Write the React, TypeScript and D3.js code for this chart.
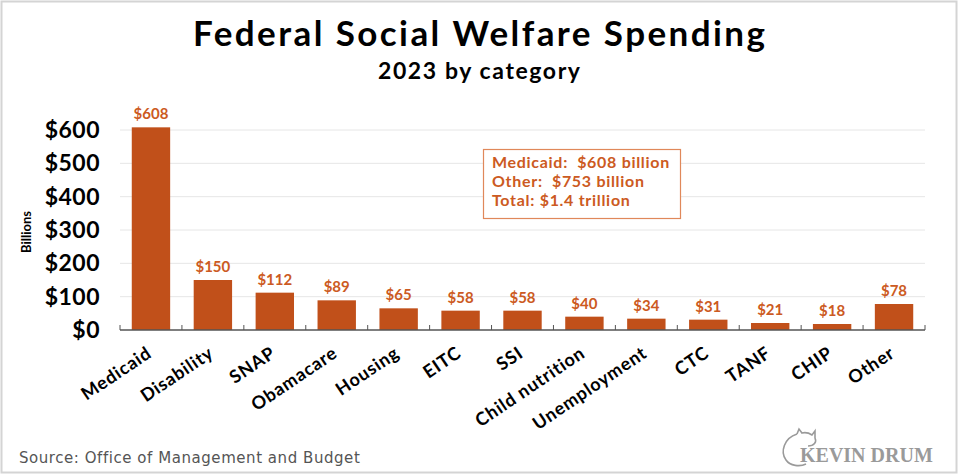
import React, { useEffect, useRef } from 'react';
import * as d3 from 'd3';

const categories = ['Medicaid', 'Disability', 'SNAP', 'Obamacare', 'Housing', 'EITC', 'SSI', 'Child nutrition', 'Unemployment', 'CTC', 'TANF', 'CHIP', 'Other'];
const values = [608, 150, 112, 89, 65, 58, 58, 40, 34, 31, 21, 18, 78];
const yTicks = [0, 100, 200, 300, 400, 500, 600];
const noteLines = ['Medicaid:  $608 billion', 'Other:  $753 billion', 'Total: $1.4 trillion'];

const width = 960;
const height = 475;
const margin = { top: 130, right: 35, bottom: 145, left: 120 };
const barColor = '#C1501A';
const labelColor = '#CC5A22';
const font = 'Lato, "Open Sans", sans-serif';

const App: React.FC = () => {
  const svgRef = useRef<SVGSVGElement | null>(null);

  useEffect(() => {
    const svg = d3.select(svgRef.current);
    svg.selectAll('*').remove();

    const x = d3.scaleBand<string>()
      .domain(categories)
      .range([margin.left, width - margin.right])
      .paddingInner(0.38)
      .paddingOuter(0.19);

    const y = d3.scaleLinear()
      .domain([0, 600])
      .range([height - margin.bottom, margin.top]);

    // frame
    svg.append('rect')
      .attr('x', 1.5).attr('y', 1.5)
      .attr('width', width - 5).attr('height', height - 4)
      .attr('fill', '#fff')
      .attr('stroke', '#d4d4d4')
      .attr('stroke-width', 2);

    // titles
    svg.append('text')
      .attr('x', 193).attr('y', 46)
      .attr('textLength', 572)
      .attr('lengthAdjust', 'spacing')
      .attr('font-family', font)
      .attr('font-weight', 700)
      .attr('font-size', 35)
      .attr('fill', '#000')
      .text('Federal Social Welfare Spending');

    svg.append('text')
      .attr('x', 378).attr('y', 79)
      .attr('textLength', 202)
      .attr('lengthAdjust', 'spacing')
      .attr('font-family', font)
      .attr('font-weight', 700)
      .attr('font-size', 23)
      .attr('fill', '#000')
      .text('2023 by category');

    // gridlines
    svg.append('g')
      .selectAll('line')
      .data(yTicks.filter(d => d > 0))
      .join('line')
      .attr('x1', margin.left)
      .attr('x2', width - margin.right)
      .attr('y1', d => y(d))
      .attr('y2', d => y(d))
      .attr('stroke', '#e6e6e6')
      .attr('stroke-width', 1);

    // y axis labels
    svg.append('g')
      .selectAll('text')
      .data(yTicks)
      .join('text')
      .attr('x', 100)
      .attr('y', d => y(d) + 8)
      .attr('text-anchor', 'end')
      .attr('font-family', font)
      .attr('font-weight', 700)
      .attr('font-size', 23)
      .attr('letter-spacing', 0.5)
      .attr('fill', '#000')
      .text(d => `$${d}`);

    svg.append('text')
      .attr('transform', `translate(31,232) rotate(-90)`)
      .attr('text-anchor', 'middle')
      .attr('font-family', font)
      .attr('font-weight', 700)
      .attr('font-size', 13)
      .attr('fill', '#000')
      .text('Billions');

    // bars
    svg.append('g')
      .selectAll('rect')
      .data(values)
      .join('rect')
      .attr('x', (_, i) => x(categories[i])!)
      .attr('width', x.bandwidth())
      .attr('y', d => y(d))
      .attr('height', d => y(0) - y(d))
      .attr('fill', barColor);

    // value labels
    svg.append('g')
      .selectAll('text')
      .data(values)
      .join('text')
      .attr('x', (_, i) => x(categories[i])! + x.bandwidth() / 2)
      .attr('y', d => y(d) - 8)
      .attr('text-anchor', 'middle')
      .attr('font-family', font)
      .attr('font-weight', 700)
      .attr('font-size', 15)
      .attr('fill', labelColor)
      .text(d => `$${d}`);

    // x axis
    const axis = svg.append('g');
    axis.append('line')
      .attr('x1', margin.left).attr('x2', width - margin.right)
      .attr('y1', y(0)).attr('y2', y(0))
      .attr('stroke', '#555').attr('stroke-width', 1.5);
    const edge = x.step() * x.paddingInner() / 2;
    axis.selectAll('line.tick')
      .data([...categories.map(c => x(c)! - edge), width - margin.right])
      .join('line')
      .attr('class', 'tick')
      .attr('x1', d => d).attr('x2', d => d)
      .attr('y1', y(0) - 5).attr('y2', y(0))
      .attr('stroke', '#555').attr('stroke-width', 1);

    axis.selectAll('text')
      .data(categories)
      .join('text')
      .attr('transform', d => `translate(${x(d)! + x.bandwidth() / 2 + 2},356) rotate(-34)`)
      .attr('text-anchor', 'end')
      .attr('font-family', font)
      .attr('font-weight', 700)
      .attr('font-size', 18)
      .attr('letter-spacing', 0.8)
      .attr('fill', '#000')
      .text(d => d);

    // note box
    svg.append('rect')
      .attr('x', 483.5).attr('y', 149.5)
      .attr('width', 197).attr('height', 69)
      .attr('fill', '#fff')
      .attr('stroke', '#E0885A')
      .attr('stroke-width', 1.2);
    svg.append('g')
      .selectAll('text')
      .data(noteLines)
      .join('text')
      .attr('x', 492)
      .attr('y', (_, i) => 168 + i * 19)
      .attr('font-family', font)
      .attr('font-weight', 700)
      .attr('font-size', 16)
      .attr('letter-spacing', 0.7)
      .style('white-space', 'pre')
      .attr('fill', labelColor)
      .text(d => d);

    // source
    svg.append('text')
      .attr('x', 19).attr('y', 463)
      .attr('font-family', '"DejaVu Sans", Verdana, sans-serif')
      .attr('font-size', 15)
      .attr('letter-spacing', 0.55)
      .attr('fill', '#555')
      .text('Source: Office of Management and Budget');

    // logo
    const logo = svg.append('g').attr('fill', 'none').attr('stroke', '#9a9a9a').attr('stroke-width', 1.6);
    logo.append('path')
      .attr('d', 'M 797 434 C 784 438, 780 452, 786 460 C 790 466, 800 467, 806 464');
    logo.append('path')
      .attr('d', 'M 797 434 L 799 429 L 802 433 C 806 432, 809 433, 812 435 L 815 431 L 815 438 C 817 442, 814 446, 808 446');
    svg.append('text')
      .attr('x', 800).attr('y', 462)
      .attr('font-family', '"Liberation Serif", "DejaVu Serif", serif')
      .attr('font-weight', 700)
      .attr('font-size', 20)
      .attr('fill', '#9a9a9a')
      .text('KEVIN DRUM');
  }, []);

  return (
    <svg
      ref={svgRef}
      width={width}
      height={height}
      style={{ position: 'absolute', left: 0, top: 0, background: '#fff' }}
    />
  );
};

export default App;
